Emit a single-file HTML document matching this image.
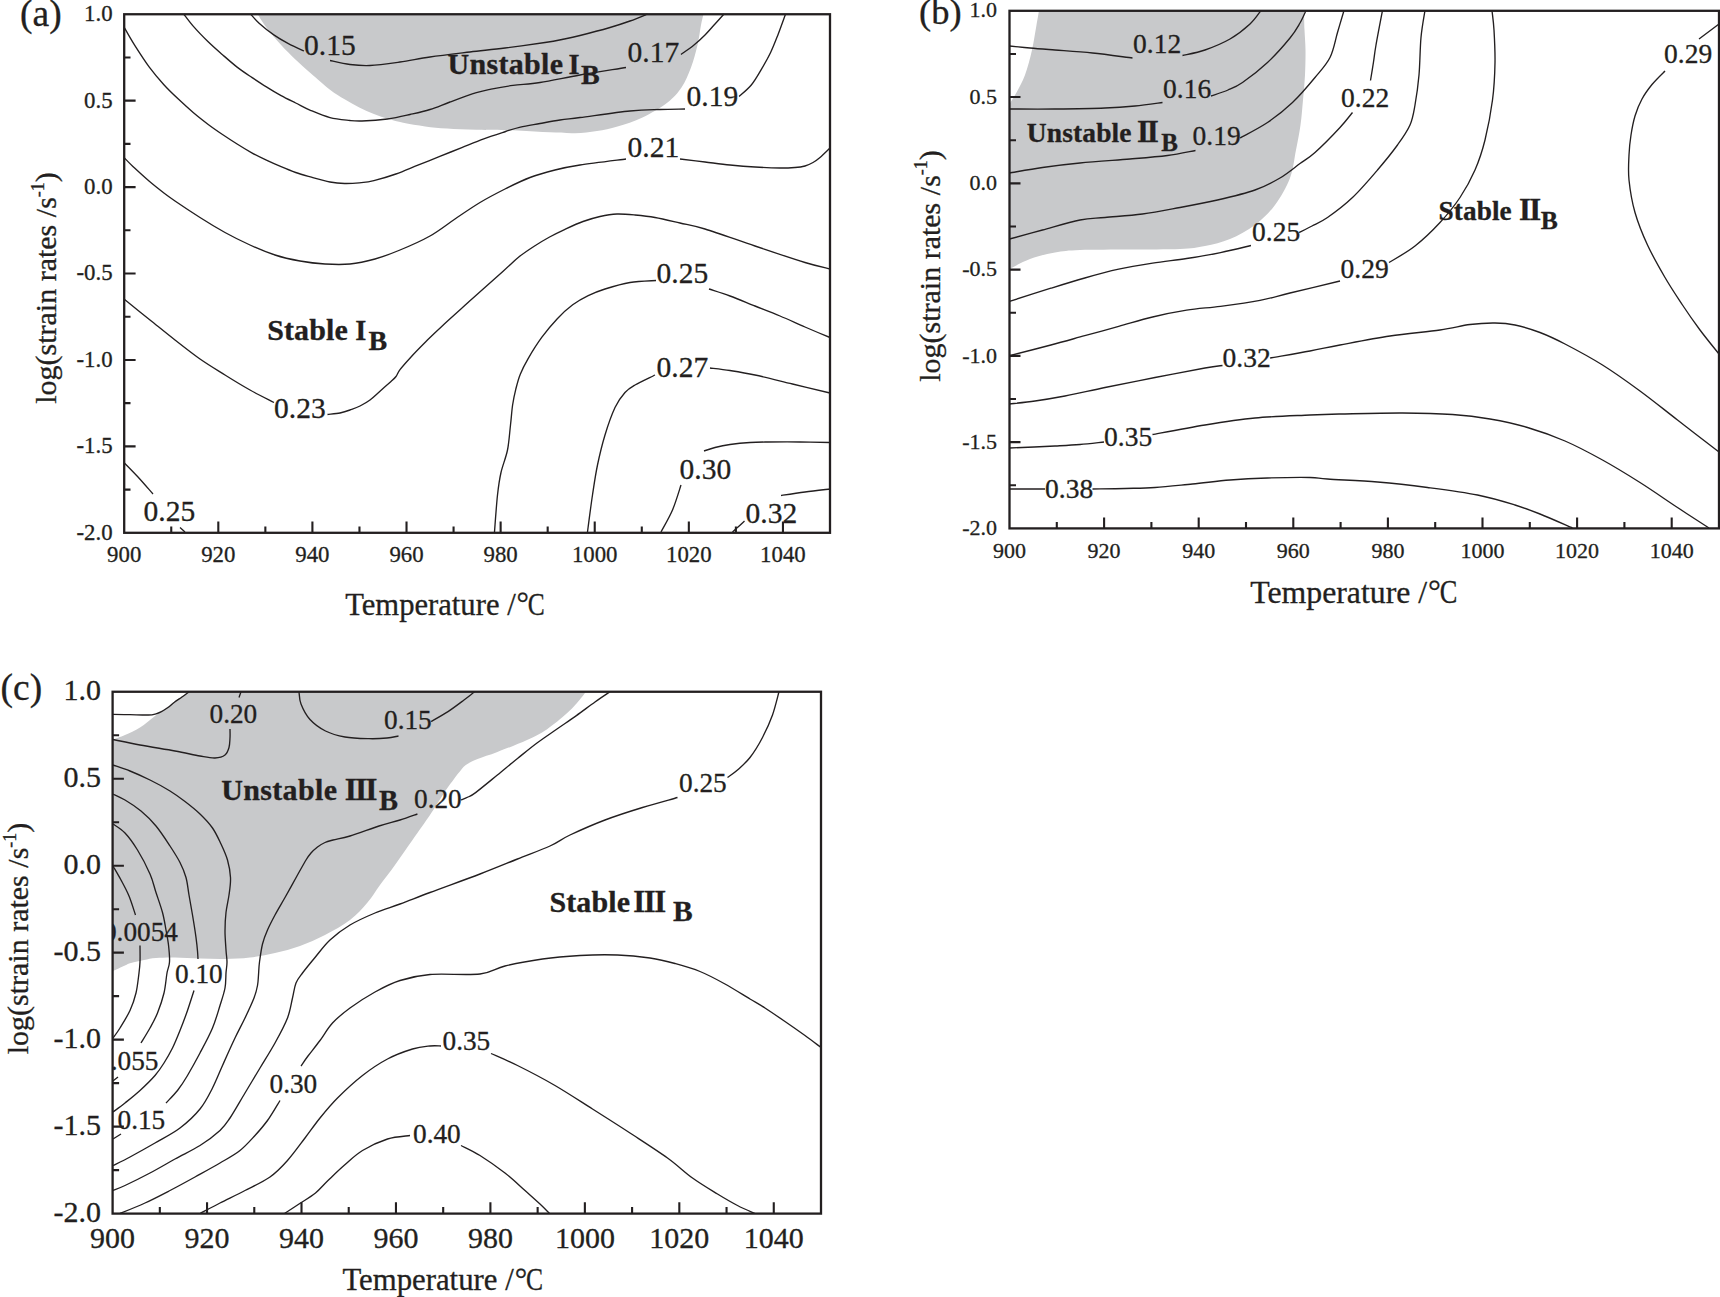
<!DOCTYPE html>
<html><head><meta charset="utf-8"><title>Processing maps</title>
<style>
html,body{margin:0;padding:0;background:#fff;}
svg{display:block;}
text{font-family:"Liberation Serif",serif;fill:#231f20;stroke:#231f20;stroke-width:0.3px;}
</style></head>
<body>
<svg width="1720" height="1297" viewBox="0 0 1720 1297">
<rect width="1720" height="1297" fill="#fff"/>
<g id="panel-a">
<path d="M257.5 14.0 C259.0 16.3 262.5 22.4 266.4 27.6 C270.3 32.8 276.2 39.7 281.1 45.1 C286.0 50.5 290.8 55.1 295.7 59.8 C300.6 64.5 304.7 68.0 310.4 73.0 C316.1 78.0 324.3 85.4 330.0 89.8 C335.7 94.2 339.7 96.4 344.6 99.3 C349.5 102.2 354.4 105.0 359.3 107.4 C364.2 109.9 369.0 112.0 373.9 114.0 C378.8 116.0 383.7 117.6 388.6 119.1 C393.5 120.6 397.1 121.6 403.2 122.8 C409.3 124.0 417.9 125.4 425.2 126.4 C432.5 127.4 438.6 128.0 447.1 128.6 C455.6 129.2 464.7 129.5 476.4 129.8 C488.1 130.1 505.2 130.1 517.5 130.5 C529.8 130.9 540.4 131.9 550.0 132.3 C559.6 132.8 567.2 133.4 575.0 133.2 C582.8 133.0 589.9 132.1 597.0 131.0 C604.1 129.9 609.9 128.8 617.5 126.5 C625.1 124.2 634.2 121.5 642.5 117.5 C650.8 113.5 661.0 107.5 667.5 102.5 C674.0 97.5 677.6 93.3 681.5 87.5 C685.4 81.7 688.3 74.6 691.0 67.5 C693.7 60.4 695.8 52.1 697.5 45.0 C699.2 37.9 700.0 30.2 701.0 25.0 C702.0 19.8 703.1 15.8 703.5 14.0 Z" fill="#c8c9cb" stroke="none"/>
<path d="M250.5 14.0 C251.9 15.5 255.2 19.7 259.1 23.2 C263.0 26.7 268.9 31.5 273.8 34.9 C278.7 38.3 283.4 41.0 288.4 43.7 C293.4 46.4 301.4 49.8 304.0 51.0 M330.0 60.5 C333.3 61.2 343.3 63.7 350.0 64.5 C356.7 65.3 361.7 65.9 370.0 65.5 C378.3 65.1 390.0 63.4 400.0 62.0 C410.0 60.6 418.3 58.7 430.0 57.0 C441.7 55.3 457.5 53.5 470.0 52.0 C482.5 50.5 492.5 49.6 505.0 48.0 C517.5 46.4 535.5 43.9 545.0 42.5 C554.5 41.1 556.2 40.7 562.0 39.5 C567.8 38.3 572.0 37.5 580.0 35.5 C588.0 33.5 601.7 29.9 610.0 27.5 C618.3 25.1 623.8 23.2 630.0 21.0 C636.2 18.8 644.6 15.2 647.5 14.0 M183.7 14.0 C185.3 16.0 189.2 21.5 193.2 26.1 C197.2 30.7 203.0 36.7 207.9 41.5 C212.8 46.3 217.6 50.4 222.5 54.7 C227.4 59.0 232.2 63.3 237.1 67.1 C242.0 70.9 246.9 74.1 251.8 77.4 C256.7 80.7 261.5 83.9 266.4 86.9 C271.3 90.0 276.2 93.0 281.1 95.7 C286.0 98.4 290.8 100.6 295.7 103.0 C300.6 105.4 304.7 107.9 310.4 110.3 C316.1 112.7 323.4 115.9 330.0 117.6 C336.6 119.3 344.7 119.9 350.0 120.5 C355.3 121.1 355.8 121.2 362.0 121.0 C368.2 120.8 379.5 120.1 387.5 119.0 C395.5 117.9 402.9 116.1 410.0 114.5 C417.1 112.9 423.3 111.6 430.0 109.5 C436.7 107.4 442.3 104.8 450.0 102.0 C457.7 99.2 469.5 94.9 476.4 92.7 C483.2 90.5 485.0 90.3 491.1 89.1 C497.2 87.9 504.9 86.5 513.0 85.4 C521.1 84.3 528.8 84.2 540.0 82.5 C551.2 80.8 565.7 77.5 580.0 75.0 C594.3 72.5 618.3 68.8 626.0 67.5 M681.0 54.5 C683.2 52.9 690.0 48.2 694.0 45.0 C698.0 41.8 701.5 38.5 705.0 35.0 C708.5 31.5 711.8 27.5 715.0 24.0 C718.2 20.5 722.5 15.7 724.0 14.0 M124.2 27.3 C125.9 30.3 130.4 38.5 134.6 45.1 C138.8 51.7 144.4 60.5 149.3 67.1 C154.2 73.7 159.0 79.3 163.9 84.7 C168.8 90.1 173.7 94.7 178.6 99.3 C183.5 103.9 188.3 108.3 193.2 112.5 C198.1 116.7 203.0 120.5 207.9 124.2 C212.8 127.9 217.6 131.2 222.5 134.5 C227.4 137.8 232.2 140.9 237.1 144.0 C242.0 147.1 246.9 150.1 251.8 152.8 C256.7 155.5 261.5 157.8 266.4 160.1 C271.3 162.4 276.2 164.6 281.1 166.7 C286.0 168.8 290.8 170.8 295.7 172.5 C300.6 174.2 304.7 175.3 310.4 176.9 C316.1 178.5 324.3 180.9 330.0 182.0 C335.7 183.1 339.7 183.4 344.6 183.5 C349.5 183.6 354.4 183.3 359.3 182.8 C364.2 182.3 367.8 182.1 373.9 180.6 C380.0 179.1 388.6 176.6 395.9 174.0 C403.2 171.4 410.6 168.1 417.9 165.2 C425.2 162.3 432.5 159.3 439.8 156.4 C447.1 153.5 454.5 150.5 461.8 147.6 C469.1 144.7 476.5 141.6 483.8 138.9 C491.1 136.2 499.6 133.5 505.7 131.5 C511.8 129.5 514.7 128.4 520.4 127.1 C526.1 125.8 533.4 124.7 540.0 123.5 C546.6 122.3 553.3 121.0 560.0 120.0 C566.7 119.0 568.3 119.0 580.0 117.5 C591.7 116.0 616.7 112.3 630.0 111.0 C643.3 109.7 650.8 109.8 660.0 109.5 C669.2 109.2 680.8 109.1 685.0 109.0 M739.1 96.4 C741.2 94.5 747.7 89.3 751.5 84.7 C755.3 80.1 758.6 74.0 761.8 68.6 C765.0 63.2 767.9 58.1 770.6 52.5 C773.3 46.9 775.4 41.3 777.9 34.9 C780.4 28.5 784.2 17.7 785.5 14.2 M124.2 157.7 C125.9 159.4 130.4 164.2 134.6 168.1 C138.8 172.0 144.4 177.2 149.3 181.3 C154.2 185.5 159.6 189.7 163.9 193.0 C168.2 196.3 169.0 196.9 175.0 201.0 C181.0 205.1 191.7 212.2 200.0 217.5 C208.3 222.8 216.7 227.9 225.0 232.5 C233.3 237.1 241.7 241.2 250.0 245.0 C258.3 248.8 266.7 252.3 275.0 255.0 C283.3 257.7 291.7 259.5 300.0 261.0 C308.3 262.5 316.7 263.5 325.0 264.0 C333.3 264.5 341.7 264.8 350.0 264.0 C358.3 263.2 366.7 261.3 375.0 259.0 C383.3 256.7 390.8 253.8 400.0 250.0 C409.2 246.2 420.8 241.2 430.0 236.0 C439.2 230.8 446.7 224.6 455.0 219.0 C463.3 213.4 471.7 207.5 480.0 202.5 C488.3 197.5 496.7 193.2 505.0 189.0 C513.3 184.8 521.7 180.7 530.0 177.5 C538.3 174.3 546.7 172.1 555.0 170.0 C563.3 167.9 568.2 166.8 580.0 165.0 C591.8 163.2 618.3 160.0 626.0 159.0 M680.0 159.0 C684.2 159.5 696.7 161.0 705.0 162.0 C713.3 163.0 721.7 164.2 730.0 165.0 C738.3 165.8 746.7 166.5 755.0 167.0 C763.3 167.5 773.3 167.9 780.0 168.0 C786.7 168.1 790.8 167.8 795.0 167.5 C799.2 167.2 802.0 166.8 805.0 166.0 C808.0 165.2 810.5 163.9 813.0 162.5 C815.5 161.1 817.2 159.9 820.0 157.5 C822.8 155.1 828.3 149.6 830.0 148.0 M124.0 299.0 C128.3 302.5 141.5 313.2 150.0 320.0 C158.5 326.8 166.7 333.5 175.0 340.0 C183.3 346.5 191.7 353.2 200.0 359.0 C208.3 364.8 216.7 369.8 225.0 375.0 C233.3 380.2 241.8 385.4 250.0 390.0 C258.2 394.6 270.0 400.4 274.0 402.5 M327.5 414.5 C329.6 414.2 336.2 413.8 340.0 413.0 C343.8 412.2 346.7 411.2 350.0 410.0 C353.3 408.8 356.7 407.7 360.0 406.0 C363.3 404.3 366.7 402.5 370.0 400.0 C373.3 397.5 376.5 394.3 380.0 391.2 C383.5 388.1 388.3 383.9 391.0 381.5 C393.7 379.1 394.5 378.5 396.0 376.5 C397.5 374.5 397.5 372.8 400.0 369.6 C402.5 366.4 406.5 361.9 410.8 357.2 C415.1 352.5 420.9 346.6 426.0 341.5 C431.1 336.4 433.9 333.5 441.7 326.4 C449.4 319.2 462.2 307.9 472.5 298.6 C482.8 289.4 495.7 277.8 503.4 270.9 C511.1 264.0 513.7 261.1 518.8 257.0 C523.9 252.9 529.1 249.5 534.2 246.2 C539.3 242.9 544.5 239.8 549.6 237.0 C554.7 234.2 559.4 231.9 565.0 229.3 C570.6 226.7 577.2 223.6 583.0 221.5 C588.8 219.4 594.3 217.8 600.0 216.5 C605.7 215.2 611.2 214.2 617.0 214.0 C622.8 213.8 628.7 214.4 635.0 215.0 C641.3 215.6 647.5 216.2 655.0 217.5 C662.5 218.8 671.7 221.1 680.0 223.0 C688.3 224.9 692.5 225.2 705.0 229.0 C717.5 232.8 738.3 240.4 755.0 246.0 C771.7 251.6 792.5 258.7 805.0 262.5 C817.5 266.3 825.8 267.9 830.0 269.0 M494.5 532.0 C495.0 525.8 496.4 504.9 497.5 495.0 C498.6 485.1 499.3 480.0 501.0 472.5 C502.7 465.0 505.9 457.9 507.5 450.0 C509.1 442.1 509.6 432.5 510.5 425.0 C511.4 417.5 511.7 410.9 512.6 405.0 C513.5 399.1 514.4 394.7 515.7 389.6 C517.0 384.5 518.2 379.3 520.3 374.2 C522.3 369.1 524.4 365.0 528.0 358.8 C531.6 352.6 537.0 343.9 541.9 337.2 C546.8 330.5 552.2 324.1 557.3 318.7 C562.4 313.3 567.6 308.6 572.7 304.8 C577.9 301.0 582.8 298.2 588.2 295.6 C593.6 293.0 598.0 291.2 605.0 289.0 C612.0 286.8 621.5 283.9 630.0 282.5 C638.5 281.1 651.7 280.8 656.0 280.5 M709.0 289.0 C712.5 290.2 722.3 293.2 730.0 296.0 C737.7 298.8 746.7 302.7 755.0 306.0 C763.3 309.3 771.7 312.5 780.0 316.0 C788.3 319.5 796.7 323.4 805.0 327.0 C813.3 330.6 825.8 335.8 830.0 337.5 M124.0 462.5 C126.3 464.9 133.2 471.8 138.0 477.0 C142.8 482.2 150.5 491.2 153.0 494.0 M180.0 527.5 L185.0 532.0 M587.5 532.0 C588.3 525.8 590.8 506.2 592.5 495.0 C594.2 483.8 595.4 475.0 597.5 465.0 C599.6 455.0 602.1 444.6 605.0 435.0 C607.9 425.4 611.7 414.6 615.0 407.5 C618.3 400.4 621.7 396.2 625.0 392.5 C628.3 388.8 630.0 387.9 635.0 385.0 C640.0 382.1 651.7 376.7 655.0 375.0 M710.0 368.0 C713.3 368.4 722.5 369.3 730.0 370.5 C737.5 371.7 744.6 372.8 755.0 375.0 C765.4 377.2 780.0 381.0 792.5 384.0 C805.0 387.0 823.8 391.5 830.0 393.0 M661.0 532.0 C662.9 528.3 669.2 517.8 672.5 510.0 C675.8 502.2 679.6 489.2 681.0 485.0 M704.0 451.0 C705.8 450.4 710.7 448.6 715.0 447.5 C719.3 446.4 724.2 445.3 730.0 444.5 C735.8 443.7 743.8 442.9 750.0 442.5 C756.2 442.1 759.2 442.1 767.5 442.0 C775.8 441.9 789.6 441.9 800.0 442.0 C810.4 442.1 825.0 442.4 830.0 442.5 M732.5 532.0 C733.4 531.2 736.0 528.8 738.0 527.0 C740.0 525.2 743.4 522.0 744.5 521.0 M781.0 495.5 C785.0 494.9 796.8 493.1 805.0 492.0 C813.2 490.9 825.8 489.5 830.0 489.0" fill="none" stroke="#231f20" stroke-width="1.35" stroke-linecap="butt" stroke-linejoin="round"/>
<rect x="124.20" y="14.25" width="705.80" height="518.55" fill="none" stroke="#231f20" stroke-width="2.3"/>
<path d="M171.25 532.80 v-6.30 M218.31 532.80 v-11.40 M265.36 532.80 v-6.30 M312.41 532.80 v-11.40 M359.47 532.80 v-6.30 M406.52 532.80 v-11.40 M453.57 532.80 v-6.30 M500.63 532.80 v-11.40 M547.68 532.80 v-6.30 M594.73 532.80 v-11.40 M641.79 532.80 v-6.30 M688.84 532.80 v-11.40 M735.89 532.80 v-6.30 M782.95 532.80 v-11.40 M124.20 57.46 h6.30 M124.20 100.67 h11.40 M124.20 143.89 h6.30 M124.20 187.10 h11.40 M124.20 230.31 h6.30 M124.20 273.52 h11.40 M124.20 316.74 h6.30 M124.20 359.95 h11.40 M124.20 403.16 h6.30 M124.20 446.38 h11.40 M124.20 489.59 h6.30 " fill="none" stroke="#231f20" stroke-width="2.1"/>
<text x="124.2" y="562.0" font-size="22.8" text-anchor="middle">900</text>
<text x="218.3" y="562.0" font-size="22.8" text-anchor="middle">920</text>
<text x="312.4" y="562.0" font-size="22.8" text-anchor="middle">940</text>
<text x="406.5" y="562.0" font-size="22.8" text-anchor="middle">960</text>
<text x="500.6" y="562.0" font-size="22.8" text-anchor="middle">980</text>
<text x="594.7" y="562.0" font-size="22.8" text-anchor="middle">1000</text>
<text x="688.8" y="562.0" font-size="22.8" text-anchor="middle">1020</text>
<text x="782.9" y="562.0" font-size="22.8" text-anchor="middle">1040</text>
<text x="112.6" y="21.1" font-size="22.8" text-anchor="end">1.0</text>
<text x="112.6" y="107.6" font-size="22.8" text-anchor="end">0.5</text>
<text x="112.6" y="194.0" font-size="22.8" text-anchor="end">0.0</text>
<text x="112.6" y="280.4" font-size="22.8" text-anchor="end">-0.5</text>
<text x="112.6" y="366.8" font-size="22.8" text-anchor="end">-1.0</text>
<text x="112.6" y="453.3" font-size="22.8" text-anchor="end">-1.5</text>
<text x="112.6" y="539.7" font-size="22.8" text-anchor="end">-2.0</text>
<text transform="translate(56.4 288.0) rotate(-90)" font-size="30.0" text-anchor="middle">log(strain rates /s<tspan font-size="18.0" dy="-12.6">-1</tspan><tspan dy="12.6">)</tspan></text>
<text x="345.2" y="614.5" font-size="30.64">Temperature /</text>
<text x="516.6" y="614.3" font-size="31.00" stroke="#231f20" stroke-width="0.7">°</text>
<text transform="translate(527.8 614.5) scale(0.80 1)" font-family="&quot;Liberation Sans&quot;, sans-serif" font-size="31.80" stroke="#231f20" stroke-width="0.5">C</text>
<text x="20.0" y="26.0" font-size="37.5" text-anchor="start">(a)</text>
<text x="304.0" y="55.0" font-size="29.5" text-anchor="start">0.15</text>
<text x="627.5" y="62.2" font-size="29.5" text-anchor="start">0.17</text>
<text x="686.5" y="106.0" font-size="29.5" text-anchor="start">0.19</text>
<text x="627.5" y="157.3" font-size="29.5" text-anchor="start">0.21</text>
<text x="656.5" y="283.0" font-size="29.5" text-anchor="start">0.25</text>
<text x="274.0" y="417.5" font-size="29.5" text-anchor="start">0.23</text>
<text x="656.5" y="377.3" font-size="29.5" text-anchor="start">0.27</text>
<text x="679.6" y="479.0" font-size="29.5" text-anchor="start">0.30</text>
<text x="745.5" y="523.0" font-size="29.5" text-anchor="start">0.32</text>
<text x="143.6" y="521.3" font-size="29.5" text-anchor="start">0.25</text>
<text font-weight="bold" font-size="30.0" stroke="#231f20" stroke-width="0.3"><tspan x="447.5" y="73.7" letter-spacing="0.30">Unstable</tspan><tspan x="568.6" y="73.7" font-size="28.5" letter-spacing="0.00">I</tspan><tspan x="581.1" y="83.6" font-size="28.0">B</tspan></text>
<text font-weight="bold" font-size="30.0" stroke="#231f20" stroke-width="0.3"><tspan x="267.2" y="340.3" letter-spacing="0.10">Stable</tspan><tspan x="355.3" y="340.3" font-size="28.5" letter-spacing="0.00">I</tspan><tspan x="368.5" y="349.8" font-size="28.0">B</tspan></text>
</g>
<g id="panel-b">
<path d="M1039.0 10.5 C1038.6 12.9 1037.7 18.4 1036.5 25.0 C1035.3 31.6 1033.9 41.7 1032.0 50.0 C1030.1 58.3 1027.6 67.9 1025.0 75.0 C1022.4 82.1 1019.1 87.7 1016.5 92.5 C1013.9 97.3 1010.7 102.1 1009.5 104.0 L1009.5 269.0 C1012.9 267.3 1022.4 261.8 1030.0 259.0 C1037.6 256.2 1046.7 254.0 1055.0 252.5 C1063.3 251.0 1067.5 250.5 1080.0 250.0 C1092.5 249.5 1113.3 249.7 1130.0 249.5 C1146.7 249.3 1167.5 249.6 1180.0 249.0 C1192.5 248.4 1196.7 247.7 1205.0 246.0 C1213.3 244.3 1221.7 242.5 1230.0 239.0 C1238.3 235.5 1247.5 230.7 1255.0 225.0 C1262.5 219.3 1269.2 212.8 1275.0 205.0 C1280.8 197.2 1286.5 187.2 1290.0 178.0 C1293.5 168.8 1294.2 158.8 1296.0 150.0 C1297.8 141.2 1299.3 133.3 1300.5 125.0 C1301.7 116.7 1302.2 108.3 1303.0 100.0 C1303.8 91.7 1304.6 83.3 1305.0 75.0 C1305.4 66.7 1305.6 57.5 1305.5 50.0 C1305.4 42.5 1304.8 36.6 1304.5 30.0 C1304.2 23.4 1304.1 13.8 1304.0 10.5 Z" fill="#c8c9cb" stroke="none"/>
<path d="M1009.5 46.0 C1012.9 46.3 1022.4 47.3 1030.0 48.0 C1037.6 48.7 1044.6 49.2 1055.0 50.0 C1065.4 50.8 1079.6 51.7 1092.5 53.0 C1105.4 54.3 1125.8 57.2 1132.5 58.0 M1182.5 55.5 C1186.2 54.6 1197.1 52.8 1205.0 50.0 C1212.9 47.2 1222.5 43.3 1230.0 39.0 C1237.5 34.7 1244.8 28.8 1250.0 24.0 C1255.2 19.2 1259.2 12.8 1261.0 10.5 M1009.5 109.0 C1017.1 109.0 1039.1 109.2 1055.0 109.0 C1070.9 108.8 1091.7 108.5 1105.0 108.0 C1118.3 107.5 1125.4 106.9 1135.0 106.0 C1144.6 105.1 1157.9 103.1 1162.5 102.5 M1211.0 96.0 C1213.8 95.0 1222.8 92.2 1228.0 90.0 C1233.2 87.8 1235.9 87.1 1242.5 82.5 C1249.1 77.9 1259.6 69.9 1267.5 62.5 C1275.4 55.1 1284.6 44.6 1290.0 38.0 C1295.4 31.4 1297.3 27.6 1300.0 23.0 C1302.7 18.4 1305.0 12.6 1306.0 10.5 M1009.5 173.0 C1015.0 172.1 1030.8 169.2 1042.5 167.5 C1054.2 165.8 1065.4 164.4 1080.0 163.0 C1094.6 161.6 1115.4 160.2 1130.0 159.0 C1144.6 157.8 1156.6 156.9 1167.5 155.5 C1178.4 154.1 1190.8 151.3 1195.5 150.5 M1240.0 138.0 C1244.6 135.4 1258.8 128.4 1267.5 122.5 C1276.2 116.6 1284.6 110.0 1292.5 102.5 C1300.4 95.0 1308.8 85.0 1315.0 77.5 C1321.2 70.0 1326.2 65.0 1330.0 57.5 C1333.8 50.0 1335.2 40.3 1337.5 32.5 C1339.8 24.7 1342.9 14.2 1344.0 10.5 M1009.5 239.0 C1015.0 237.5 1030.8 233.2 1042.5 230.0 C1054.2 226.8 1069.6 222.1 1080.0 220.0 C1090.4 217.9 1094.6 218.5 1105.0 217.5 C1115.4 216.5 1130.0 215.7 1142.5 214.0 C1155.0 212.3 1167.5 209.8 1180.0 207.5 C1192.5 205.2 1205.0 202.9 1217.5 200.0 C1230.0 197.1 1244.6 193.7 1255.0 190.0 C1265.4 186.3 1272.5 182.4 1280.0 178.0 C1287.5 173.6 1294.2 167.8 1300.0 163.5 C1305.8 159.2 1308.3 158.5 1315.0 152.5 C1321.7 146.5 1333.8 134.2 1340.0 127.5 C1346.2 120.8 1350.4 115.0 1352.5 112.5 M1370.5 80.5 C1371.0 77.4 1372.6 67.9 1373.5 62.0 C1374.4 56.1 1374.5 53.6 1376.0 45.0 C1377.5 36.4 1381.4 16.2 1382.5 10.5 M1009.5 301.4 C1016.4 299.2 1038.4 292.1 1050.9 288.2 C1063.5 284.3 1073.5 281.2 1084.8 278.0 C1096.1 274.8 1107.4 271.7 1118.7 269.2 C1130.0 266.7 1141.3 264.9 1152.6 263.1 C1163.9 261.3 1175.3 260.2 1186.6 258.5 C1197.9 256.8 1209.8 254.8 1220.5 252.6 C1231.2 250.4 1245.9 246.7 1251.0 245.5 M1299.0 232.5 C1301.2 231.4 1307.2 228.5 1312.0 226.0 C1316.8 223.5 1320.8 222.2 1327.5 217.5 C1334.2 212.8 1344.2 205.4 1352.5 197.5 C1360.8 189.6 1370.0 178.8 1377.5 170.0 C1385.0 161.2 1392.1 152.5 1397.5 145.0 C1402.9 137.5 1407.1 131.7 1410.0 125.0 C1412.9 118.3 1413.5 113.3 1415.0 105.0 C1416.5 96.7 1418.0 86.2 1419.0 75.0 C1420.0 63.8 1420.0 48.2 1421.0 37.5 C1422.0 26.8 1424.3 15.0 1425.0 10.5 M1009.5 355.7 C1016.4 353.9 1038.4 348.3 1050.9 345.0 C1063.5 341.7 1073.5 338.8 1084.8 335.7 C1096.1 332.6 1107.4 329.5 1118.7 326.4 C1130.0 323.3 1141.3 319.7 1152.6 317.0 C1163.9 314.3 1175.3 312.0 1186.6 310.2 C1197.9 308.4 1208.3 307.9 1220.5 306.3 C1232.7 304.7 1248.4 302.6 1260.0 300.4 C1271.6 298.2 1276.7 296.2 1290.0 293.0 C1303.3 289.8 1331.7 283.0 1340.0 281.0 M1389.0 262.5 C1393.3 259.8 1406.5 252.7 1415.0 246.0 C1423.5 239.3 1432.5 230.6 1440.0 222.5 C1447.5 214.4 1454.2 206.2 1460.0 197.5 C1465.8 188.8 1470.8 179.6 1475.0 170.0 C1479.2 160.4 1482.1 151.7 1485.0 140.0 C1487.9 128.3 1490.8 112.9 1492.5 100.0 C1494.2 87.1 1494.8 74.2 1495.0 62.5 C1495.2 50.8 1494.5 38.7 1494.0 30.0 C1493.5 21.3 1492.3 13.8 1492.0 10.5 M1719.0 24.0 L1699.0 39.0 M1665.0 71.0 C1662.8 73.2 1655.8 79.8 1652.0 84.5 C1648.2 89.2 1644.8 93.8 1642.0 99.0 C1639.2 104.2 1636.8 110.0 1635.0 116.0 C1633.2 122.0 1632.0 128.5 1631.0 135.0 C1630.0 141.5 1629.3 147.5 1629.0 155.0 C1628.7 162.5 1628.0 170.4 1629.0 180.0 C1630.0 189.6 1631.9 201.7 1635.0 212.5 C1638.1 223.3 1642.5 234.2 1647.5 245.0 C1652.5 255.8 1659.2 267.5 1665.0 277.5 C1670.8 287.5 1676.7 296.2 1682.5 305.0 C1688.3 313.8 1693.9 321.8 1700.0 330.0 C1706.1 338.2 1715.8 350.0 1719.0 354.0 M1009.5 404.0 C1013.8 403.5 1025.8 402.3 1035.0 401.0 C1044.2 399.7 1053.3 398.2 1065.0 396.0 C1076.7 393.8 1090.0 390.6 1105.0 387.5 C1120.0 384.4 1138.3 380.8 1155.0 377.5 C1171.7 374.2 1193.8 370.0 1205.0 368.0 C1216.2 366.0 1219.6 365.9 1222.5 365.5 M1270.0 358.0 C1276.7 356.8 1298.3 353.2 1310.0 351.0 C1321.7 348.8 1326.7 347.5 1340.0 345.0 C1353.3 342.5 1373.3 338.5 1390.0 336.0 C1406.7 333.5 1426.7 331.9 1440.0 330.0 C1453.3 328.1 1460.8 325.7 1470.0 324.5 C1479.2 323.3 1487.5 322.9 1495.0 323.0 C1502.5 323.1 1507.5 323.4 1515.0 325.0 C1522.5 326.6 1531.7 329.3 1540.0 332.5 C1548.3 335.7 1554.6 338.6 1565.0 344.0 C1575.4 349.4 1590.0 357.2 1602.5 365.0 C1615.0 372.8 1627.5 381.8 1640.0 391.0 C1652.5 400.2 1664.3 409.8 1677.5 420.0 C1690.7 430.2 1712.1 446.7 1719.0 452.0 M1009.5 448.0 C1017.1 447.7 1043.2 446.6 1055.0 446.0 C1066.8 445.4 1071.8 445.2 1080.0 444.5 C1088.2 443.8 1100.0 442.4 1104.0 442.0 M1152.5 434.5 C1161.2 432.9 1187.9 427.8 1205.0 425.0 C1222.1 422.2 1237.5 419.7 1255.0 418.0 C1272.5 416.3 1295.8 415.7 1310.0 415.0 C1324.2 414.3 1324.6 414.3 1340.0 414.0 C1355.4 413.7 1383.8 412.9 1402.5 413.0 C1421.2 413.1 1437.9 413.5 1452.5 414.5 C1467.1 415.5 1477.5 416.8 1490.0 419.0 C1502.5 421.2 1515.0 423.8 1527.5 427.5 C1540.0 431.2 1552.5 435.6 1565.0 441.0 C1577.5 446.4 1590.0 453.1 1602.5 460.0 C1615.0 466.9 1627.5 474.6 1640.0 482.5 C1652.5 490.4 1666.0 499.9 1677.5 507.5 C1689.0 515.1 1703.8 524.6 1709.0 528.0 M1009.5 489.0 L1045.0 489.0 M1092.5 489.0 C1097.9 488.9 1114.6 488.8 1125.0 488.5 C1135.4 488.2 1143.8 488.2 1155.0 487.5 C1166.2 486.8 1180.0 485.2 1192.5 484.0 C1205.0 482.8 1217.5 481.0 1230.0 480.0 C1242.5 479.0 1254.2 478.4 1267.5 478.0 C1280.8 477.6 1300.0 477.3 1310.0 477.5 C1320.0 477.7 1316.2 478.2 1327.5 479.0 C1338.8 479.8 1360.8 480.6 1377.5 482.0 C1394.2 483.4 1410.8 485.3 1427.5 487.5 C1444.2 489.7 1462.9 492.1 1477.5 495.0 C1492.1 497.9 1504.6 501.8 1515.0 505.0 C1525.4 508.2 1530.4 510.2 1540.0 514.0 C1549.6 517.8 1567.1 525.7 1572.5 528.0" fill="none" stroke="#231f20" stroke-width="1.35" stroke-linecap="butt" stroke-linejoin="round"/>
<rect x="1009.50" y="10.80" width="709.50" height="517.60" fill="none" stroke="#231f20" stroke-width="2.3"/>
<path d="M1056.80 528.40 v-6.50 M1104.10 528.40 v-11.00 M1151.40 528.40 v-6.50 M1198.70 528.40 v-11.00 M1246.00 528.40 v-6.50 M1293.30 528.40 v-11.00 M1340.60 528.40 v-6.50 M1387.90 528.40 v-11.00 M1435.20 528.40 v-6.50 M1482.50 528.40 v-11.00 M1529.80 528.40 v-6.50 M1577.10 528.40 v-11.00 M1624.40 528.40 v-6.50 M1671.70 528.40 v-11.00 M1009.50 53.93 h6.50 M1009.50 97.07 h11.00 M1009.50 140.20 h6.50 M1009.50 183.33 h11.00 M1009.50 226.47 h6.50 M1009.50 269.60 h11.00 M1009.50 312.73 h6.50 M1009.50 355.87 h11.00 M1009.50 399.00 h6.50 M1009.50 442.13 h11.00 M1009.50 485.27 h6.50 " fill="none" stroke="#231f20" stroke-width="2.1"/>
<text x="1009.5" y="557.5" font-size="22.0" text-anchor="middle">900</text>
<text x="1104.1" y="557.5" font-size="22.0" text-anchor="middle">920</text>
<text x="1198.7" y="557.5" font-size="22.0" text-anchor="middle">940</text>
<text x="1293.3" y="557.5" font-size="22.0" text-anchor="middle">960</text>
<text x="1387.9" y="557.5" font-size="22.0" text-anchor="middle">980</text>
<text x="1482.5" y="557.5" font-size="22.0" text-anchor="middle">1000</text>
<text x="1577.1" y="557.5" font-size="22.0" text-anchor="middle">1020</text>
<text x="1671.7" y="557.5" font-size="22.0" text-anchor="middle">1040</text>
<text x="997.0" y="17.4" font-size="22.0" text-anchor="end">1.0</text>
<text x="997.0" y="103.7" font-size="22.0" text-anchor="end">0.5</text>
<text x="997.0" y="189.9" font-size="22.0" text-anchor="end">0.0</text>
<text x="997.0" y="276.2" font-size="22.0" text-anchor="end">-0.5</text>
<text x="997.0" y="362.5" font-size="22.0" text-anchor="end">-1.0</text>
<text x="997.0" y="448.7" font-size="22.0" text-anchor="end">-1.5</text>
<text x="997.0" y="535.0" font-size="22.0" text-anchor="end">-2.0</text>
<text transform="translate(939.7 266.0) rotate(-90)" font-size="30.0" text-anchor="middle">log(strain rates /s<tspan font-size="18.0" dy="-12.6">-1</tspan><tspan dy="12.6">)</tspan></text>
<text x="1250.2" y="602.6" font-size="31.80">Temperature /</text>
<text x="1428.1" y="602.4" font-size="32.18" stroke="#231f20" stroke-width="0.7">°</text>
<text transform="translate(1439.7 602.6) scale(0.80 1)" font-family="&quot;Liberation Sans&quot;, sans-serif" font-size="33.01" stroke="#231f20" stroke-width="0.5">C</text>
<text x="919.0" y="24.0" font-size="36.5" text-anchor="start">(b)</text>
<text x="1133.0" y="53.0" font-size="27.5" text-anchor="start">0.12</text>
<text x="1163.0" y="97.5" font-size="27.5" text-anchor="start">0.16</text>
<text x="1192.5" y="144.5" font-size="27.5" text-anchor="start">0.19</text>
<text x="1252.0" y="241.0" font-size="27.5" text-anchor="start">0.25</text>
<text x="1341.0" y="107.0" font-size="27.5" text-anchor="start">0.22</text>
<text x="1340.5" y="278.0" font-size="27.5" text-anchor="start">0.29</text>
<text x="1664.0" y="63.0" font-size="27.5" text-anchor="start">0.29</text>
<text x="1222.5" y="367.0" font-size="27.5" text-anchor="start">0.32</text>
<text x="1104.0" y="445.5" font-size="27.5" text-anchor="start">0.35</text>
<text x="1045.0" y="497.5" font-size="27.5" text-anchor="start">0.38</text>
<text font-weight="bold" font-size="27.5" stroke="#231f20" stroke-width="0.3"><tspan x="1026.8" y="142.2" letter-spacing="0.12">Unstable</tspan><tspan x="1136.9" y="142.2" font-size="31.0" letter-spacing="-2.10">II</tspan><tspan x="1161.2" y="150.6" font-size="25.0">B</tspan></text>
<text font-weight="bold" font-size="27.3" stroke="#231f20" stroke-width="0.3"><tspan x="1438.6" y="220.1" letter-spacing="0.05">Stable</tspan><tspan x="1519.0" y="220.1" font-size="30.6" letter-spacing="-1.70">II</tspan><tspan x="1540.8" y="228.5" font-size="25.6">B</tspan></text>
</g>
<g id="panel-c">
<clipPath id="clipc"><rect x="112.6" y="691.8" width="708.4" height="521.8"/></clipPath>
<path d="M113.0 739.5 C115.0 738.8 120.5 737.0 125.0 735.0 C129.5 733.0 135.0 730.7 140.0 727.5 C145.0 724.3 150.0 719.8 155.0 716.0 C160.0 712.2 165.0 708.7 170.0 705.0 C175.0 701.3 182.0 696.2 185.0 694.0 C188.0 691.8 187.5 692.1 188.0 691.8 L586.0 691.8 C584.5 693.6 580.2 699.4 577.0 703.0 C573.8 706.6 571.6 709.2 566.6 713.6 C561.6 718.0 553.4 725.0 546.8 729.4 C540.2 733.8 535.2 736.2 527.0 740.0 C518.8 743.8 505.6 748.8 497.4 752.0 C489.2 755.2 482.9 756.8 477.6 759.0 C472.3 761.2 468.9 762.8 465.8 765.0 C462.7 767.2 461.0 770.2 459.0 772.5 C457.0 774.8 456.2 776.1 454.0 779.0 C451.8 781.9 448.7 786.1 446.0 790.0 C443.3 793.9 440.7 798.3 438.0 802.5 C435.3 806.7 434.2 808.8 430.0 815.0 C425.8 821.2 418.3 831.7 412.5 840.0 C406.7 848.3 400.4 857.5 395.0 865.0 C389.6 872.5 384.6 878.8 380.0 885.0 C375.4 891.2 372.5 896.7 367.5 902.5 C362.5 908.3 357.1 914.6 350.0 920.0 C342.9 925.4 333.3 930.7 325.0 935.0 C316.7 939.3 308.3 943.0 300.0 946.0 C291.7 949.0 283.3 951.1 275.0 953.0 C266.7 954.9 258.3 956.5 250.0 957.5 C241.7 958.5 233.3 958.8 225.0 959.0 C216.7 959.2 208.3 958.8 200.0 958.5 C191.7 958.2 182.3 957.6 175.0 957.5 C167.7 957.4 161.2 957.6 156.0 958.0 C150.8 958.4 148.2 959.2 144.0 960.0 C139.8 960.8 134.2 962.1 131.0 963.0 C127.8 963.9 128.0 964.2 125.0 965.5 C122.0 966.8 115.0 970.1 113.0 971.0 Z" fill="#c8c9cb" stroke="none"/>
<path d="M113.0 714.3 C115.8 714.4 124.1 714.6 130.0 714.7 C135.9 714.8 144.1 715.1 148.4 715.0 C152.7 714.9 153.8 714.4 156.0 713.8 C158.2 713.2 159.4 712.6 161.4 711.6 C163.4 710.6 165.8 709.0 168.0 707.5 C170.2 706.0 172.1 704.0 174.4 702.3 C176.7 700.5 179.5 698.8 182.0 697.0 C184.5 695.2 188.1 692.6 189.3 691.8 M113.0 739.5 C117.5 740.4 129.7 743.1 140.0 745.0 C150.3 746.9 165.0 749.2 175.0 751.0 C185.0 752.8 193.3 754.8 200.0 756.0 C206.7 757.2 210.8 758.2 215.0 758.0 C219.2 757.8 222.7 756.8 225.0 755.0 C227.3 753.2 228.2 750.3 229.0 747.5 C229.8 744.7 229.8 741.1 230.0 738.0 C230.2 734.9 230.0 730.5 230.0 729.0 M239.0 697.5 L241.0 691.8 M299.0 691.8 C299.3 693.8 299.2 699.4 301.0 704.0 C302.8 708.6 305.9 715.0 310.0 719.5 C314.1 724.0 319.7 728.1 325.5 731.0 C331.3 733.9 337.8 735.7 345.0 737.0 C352.2 738.3 362.0 738.5 369.0 738.7 C376.0 738.9 382.1 738.5 387.0 738.0 C391.9 737.5 396.6 736.3 398.5 736.0 M431.0 721.5 C433.8 719.9 442.5 715.2 448.0 711.6 C453.5 708.0 459.6 703.3 464.0 700.0 C468.4 696.7 472.9 693.1 474.7 691.8 M461.0 800.0 C462.2 799.5 465.6 798.2 468.0 797.0 C470.4 795.8 470.7 796.3 475.6 792.6 C480.5 788.9 490.4 780.7 497.4 775.0 C504.4 769.3 510.9 763.8 517.5 758.5 C524.1 753.2 530.4 747.9 537.0 743.0 C543.6 738.1 550.4 733.6 557.0 729.0 C563.6 724.4 570.1 720.1 576.4 715.6 C582.7 711.1 589.4 706.0 595.0 702.0 C600.6 698.0 607.5 693.5 610.0 691.8 M417.4 814.0 C414.5 815.0 406.4 818.0 400.0 820.0 C393.6 822.0 387.3 823.3 379.0 826.0 C370.7 828.7 357.7 833.7 350.0 836.0 C342.3 838.3 337.2 838.9 333.0 840.0 C328.8 841.1 327.6 841.3 325.0 842.5 C322.4 843.7 319.8 845.2 317.5 847.0 C315.2 848.8 312.9 850.8 311.0 853.0 C309.1 855.2 308.2 856.3 306.0 860.0 C303.8 863.7 301.0 868.8 297.5 875.0 C294.0 881.2 288.8 890.8 285.0 897.5 C281.2 904.2 277.9 909.6 275.0 915.0 C272.1 920.4 269.6 925.2 267.5 930.0 C265.4 934.8 263.8 938.7 262.5 944.0 C261.2 949.3 260.2 956.8 259.5 962.0 C258.8 967.2 258.8 971.1 258.5 975.0 C258.2 978.9 258.2 981.7 257.5 985.5 C256.8 989.3 256.1 992.6 254.0 998.0 C251.9 1003.4 248.2 1011.3 245.0 1018.0 C241.8 1024.7 238.8 1030.1 235.0 1038.0 C231.2 1045.9 226.2 1057.2 222.5 1065.5 C218.8 1073.8 216.2 1080.8 212.5 1088.0 C208.8 1095.2 205.4 1102.3 200.0 1109.0 C194.6 1115.7 187.5 1122.3 180.0 1128.0 C172.5 1133.7 163.3 1138.2 155.0 1143.0 C146.7 1147.8 137.0 1153.2 130.0 1157.0 C123.0 1160.8 115.8 1164.1 113.0 1165.5 M113.0 765.0 C115.8 766.0 123.8 768.5 130.0 771.0 C136.2 773.5 143.3 776.7 150.0 780.0 C156.7 783.3 164.2 787.4 170.0 791.0 C175.8 794.6 180.0 797.7 185.0 801.5 C190.0 805.3 195.4 809.6 200.0 814.0 C204.6 818.4 209.0 823.0 212.5 828.0 C216.0 833.0 218.5 838.7 221.0 844.0 C223.5 849.3 225.9 854.4 227.5 860.0 C229.1 865.6 230.2 871.7 230.5 877.5 C230.8 883.3 229.8 889.2 229.0 895.0 C228.2 900.8 226.7 906.5 226.0 912.5 C225.3 918.5 225.0 924.8 225.0 931.0 C225.0 937.2 225.7 944.8 226.0 950.0 C226.3 955.2 227.0 958.2 227.0 962.0 C227.0 965.8 226.3 968.7 226.0 973.0 C225.7 977.3 226.0 982.6 225.0 988.0 C224.0 993.4 222.1 998.8 220.0 1005.5 C217.9 1012.2 215.8 1020.1 212.5 1028.0 C209.2 1035.9 204.2 1045.1 200.0 1053.0 C195.8 1060.9 191.2 1069.2 187.5 1075.5 C183.8 1081.8 181.1 1085.9 177.5 1090.5 C173.9 1095.1 167.9 1100.9 166.0 1103.0 M121.0 1134.0 L113.0 1139.0 M113.0 794.0 C115.0 795.0 120.3 797.2 125.0 800.0 C129.7 802.8 135.8 806.7 141.0 811.0 C146.2 815.3 151.2 820.2 156.0 826.0 C160.8 831.8 166.0 839.9 170.0 846.0 C174.0 852.1 177.3 857.2 180.0 862.5 C182.7 867.8 184.5 872.1 186.0 877.5 C187.5 882.9 187.9 888.8 189.0 895.0 C190.1 901.2 191.3 907.9 192.5 915.0 C193.7 922.1 195.2 931.5 196.0 937.5 C196.8 943.5 197.2 947.4 197.5 951.0 C197.8 954.6 197.9 957.7 198.0 959.0 M194.0 990.5 C192.9 993.8 189.8 1003.8 187.5 1010.5 C185.2 1017.2 182.5 1024.2 180.0 1030.5 C177.5 1036.8 175.2 1042.6 172.5 1048.0 C169.8 1053.4 166.9 1058.4 164.0 1063.0 C161.1 1067.6 159.0 1070.9 155.0 1075.5 C151.0 1080.1 145.0 1085.9 140.0 1090.5 C135.0 1095.1 129.5 1099.4 125.0 1103.0 C120.5 1106.6 115.0 1110.5 113.0 1112.0 M113.0 824.0 C115.0 825.5 120.9 828.7 125.0 833.0 C129.1 837.3 133.3 843.2 137.5 850.0 C141.7 856.8 146.9 866.9 150.0 874.0 C153.1 881.1 153.9 886.1 156.0 892.5 C158.1 898.9 160.8 906.2 162.5 912.5 C164.2 918.8 165.0 924.6 166.0 930.0 C167.0 935.4 167.9 939.7 168.5 945.0 C169.1 950.3 169.8 957.3 169.5 962.0 C169.2 966.7 167.9 967.8 167.0 973.0 C166.1 978.2 165.6 986.3 164.0 993.0 C162.4 999.7 159.8 1007.2 157.5 1013.0 C155.2 1018.8 152.8 1023.0 150.0 1028.0 C147.2 1033.0 142.5 1040.5 141.0 1043.0 M118.0 1077.0 L112.6 1081.3 M113.0 866.0 C114.3 868.3 118.3 875.0 121.0 880.0 C123.7 885.0 126.6 890.2 129.0 896.0 C131.4 901.8 134.4 911.8 135.5 915.0 M140.0 945.5 C140.0 948.2 140.2 957.4 140.0 962.0 C139.8 966.6 139.7 967.8 139.0 973.0 C138.3 978.2 137.5 986.8 136.0 993.0 C134.5 999.2 132.7 1004.7 130.0 1010.5 C127.3 1016.3 122.8 1023.4 120.0 1028.0 C117.2 1032.6 114.2 1036.3 113.0 1038.0 M779.0 691.8 C777.9 695.6 775.2 707.4 772.5 715.0 C769.8 722.6 766.2 730.4 762.5 737.5 C758.8 744.6 754.2 752.1 750.0 757.5 C745.8 762.9 741.2 766.7 737.5 770.0 C733.8 773.3 729.2 776.2 727.5 777.5 M677.5 797.5 C671.7 799.2 654.6 803.8 642.5 807.5 C630.4 811.2 617.1 815.4 605.0 820.0 C592.9 824.6 579.2 830.7 570.0 835.0 C560.8 839.3 558.8 842.0 550.0 846.0 C541.2 850.0 529.2 854.3 517.5 859.0 C505.8 863.7 494.6 868.4 480.0 874.0 C465.4 879.6 443.3 887.5 430.0 892.5 C416.7 897.5 409.2 900.6 400.0 904.0 C390.8 907.4 383.3 909.5 375.0 913.0 C366.7 916.5 357.5 920.5 350.0 925.0 C342.5 929.5 335.8 934.6 330.0 940.0 C324.2 945.4 319.6 952.0 315.0 957.5 C310.4 963.0 305.7 968.8 302.5 973.0 C299.3 977.2 297.7 978.8 296.0 983.0 C294.3 987.2 293.9 992.2 292.5 998.0 C291.1 1003.8 290.4 1010.5 287.5 1018.0 C284.6 1025.5 279.6 1034.7 275.0 1043.0 C270.4 1051.3 265.0 1059.7 260.0 1068.0 C255.0 1076.3 250.0 1084.7 245.0 1093.0 C240.0 1101.3 234.2 1111.8 230.0 1118.0 C225.8 1124.2 225.0 1125.9 220.0 1130.5 C215.0 1135.1 207.5 1140.8 200.0 1145.5 C192.5 1150.2 183.3 1154.4 175.0 1159.0 C166.7 1163.6 158.3 1168.6 150.0 1173.0 C141.7 1177.4 131.2 1182.6 125.0 1185.5 C118.8 1188.4 115.0 1189.7 113.0 1190.5 M821.0 1047.5 C818.3 1045.5 811.0 1039.8 805.0 1035.5 C799.0 1031.2 791.7 1026.1 785.0 1021.5 C778.3 1016.9 770.8 1011.8 765.0 1008.0 C759.2 1004.2 756.7 1003.0 750.0 999.0 C743.3 995.0 733.3 988.6 725.0 984.0 C716.7 979.4 708.3 974.9 700.0 971.5 C691.7 968.1 683.3 965.8 675.0 963.5 C666.7 961.2 659.6 959.4 650.0 958.0 C640.4 956.6 629.2 955.4 617.5 955.0 C605.8 954.6 592.5 954.8 580.0 955.5 C567.5 956.2 555.0 957.2 542.5 959.0 C530.0 960.8 515.4 963.5 505.0 966.0 C494.6 968.5 492.5 972.6 480.0 974.0 C467.5 975.4 443.3 973.4 430.0 974.5 C416.7 975.6 409.2 977.6 400.0 980.5 C390.8 983.4 383.3 987.4 375.0 992.0 C366.7 996.6 357.1 1002.8 350.0 1008.0 C342.9 1013.2 337.5 1017.6 332.5 1023.0 C327.5 1028.4 324.1 1035.0 320.0 1040.5 C315.9 1046.0 311.2 1051.8 308.0 1056.0 C304.8 1060.2 302.2 1064.3 301.0 1066.0 M280.0 1100.5 C277.9 1103.8 271.7 1114.7 267.5 1120.5 C263.3 1126.3 259.6 1130.5 255.0 1135.5 C250.4 1140.5 245.8 1145.9 240.0 1150.5 C234.2 1155.1 227.5 1158.6 220.0 1163.0 C212.5 1167.4 203.3 1172.4 195.0 1177.0 C186.7 1181.6 178.3 1186.2 170.0 1190.5 C161.7 1194.8 153.3 1199.2 145.0 1203.0 C136.7 1206.8 124.2 1211.8 120.0 1213.5 M441.0 1046.0 C439.2 1046.0 434.8 1045.5 430.0 1046.0 C425.2 1046.5 419.6 1046.8 412.5 1049.0 C405.4 1051.2 395.8 1054.6 387.5 1059.0 C379.2 1063.4 370.8 1069.0 362.5 1075.5 C354.2 1082.0 344.6 1090.9 337.5 1098.0 C330.4 1105.1 325.4 1111.3 320.0 1118.0 C314.6 1124.7 310.4 1130.9 305.0 1138.0 C299.6 1145.1 293.3 1154.0 287.5 1160.5 C281.7 1167.0 277.1 1172.0 270.0 1177.0 C262.9 1182.0 253.3 1186.2 245.0 1190.5 C236.7 1194.8 227.5 1199.2 220.0 1203.0 C212.5 1206.8 203.3 1211.8 200.0 1213.5 M491.0 1053.5 C495.4 1055.5 506.8 1060.2 517.5 1065.5 C528.2 1070.8 542.5 1078.2 555.0 1085.5 C567.5 1092.8 580.0 1101.1 592.5 1109.0 C605.0 1116.9 617.5 1124.8 630.0 1133.0 C642.5 1141.2 657.1 1150.5 667.5 1158.0 C677.9 1165.5 684.2 1172.0 692.5 1178.0 C700.8 1184.0 710.0 1189.4 717.5 1194.0 C725.0 1198.6 731.2 1202.2 737.5 1205.5 C743.8 1208.8 752.1 1212.2 755.0 1213.5 M410.0 1135.5 C406.2 1136.1 395.4 1136.5 387.5 1139.0 C379.6 1141.5 369.8 1146.1 362.5 1150.5 C355.2 1154.9 349.8 1160.5 344.0 1165.5 C338.2 1170.5 332.8 1175.9 328.0 1180.5 C323.2 1185.1 320.3 1189.1 315.5 1193.0 C310.7 1196.9 304.2 1200.6 299.0 1204.0 C293.8 1207.4 286.9 1211.9 284.5 1213.5 M461.0 1145.5 C464.2 1147.2 472.7 1150.9 480.0 1155.5 C487.3 1160.1 497.5 1167.2 505.0 1173.0 C512.5 1178.8 519.2 1185.3 525.0 1190.5 C530.8 1195.7 535.9 1200.2 540.0 1204.0 C544.1 1207.8 547.9 1211.9 549.5 1213.5" fill="none" stroke="#231f20" stroke-width="1.35" stroke-linecap="butt" stroke-linejoin="round"/>
<rect x="112.60" y="691.75" width="708.40" height="521.85" fill="none" stroke="#231f20" stroke-width="2.3"/>
<path d="M159.83 1213.60 v-6.50 M207.05 1213.60 v-11.30 M254.28 1213.60 v-6.50 M301.51 1213.60 v-11.30 M348.73 1213.60 v-6.50 M395.96 1213.60 v-11.30 M443.19 1213.60 v-6.50 M490.41 1213.60 v-11.30 M537.64 1213.60 v-6.50 M584.87 1213.60 v-11.30 M632.09 1213.60 v-6.50 M679.32 1213.60 v-11.30 M726.55 1213.60 v-6.50 M773.77 1213.60 v-11.30 M112.60 735.24 h6.50 M112.60 778.73 h11.30 M112.60 822.21 h6.50 M112.60 865.70 h11.30 M112.60 909.19 h6.50 M112.60 952.67 h11.30 M112.60 996.16 h6.50 M112.60 1039.65 h11.30 M112.60 1083.14 h6.50 M112.60 1126.62 h11.30 M112.60 1170.11 h6.50 " fill="none" stroke="#231f20" stroke-width="2.1"/>
<text x="112.6" y="1248.0" font-size="30.0" text-anchor="middle">900</text>
<text x="207.1" y="1248.0" font-size="30.0" text-anchor="middle">920</text>
<text x="301.5" y="1248.0" font-size="30.0" text-anchor="middle">940</text>
<text x="396.0" y="1248.0" font-size="30.0" text-anchor="middle">960</text>
<text x="490.4" y="1248.0" font-size="30.0" text-anchor="middle">980</text>
<text x="584.9" y="1248.0" font-size="30.0" text-anchor="middle">1000</text>
<text x="679.3" y="1248.0" font-size="30.0" text-anchor="middle">1020</text>
<text x="773.8" y="1248.0" font-size="30.0" text-anchor="middle">1040</text>
<text x="101.0" y="700.0" font-size="30.0" text-anchor="end">1.0</text>
<text x="101.0" y="786.9" font-size="30.0" text-anchor="end">0.5</text>
<text x="101.0" y="873.9" font-size="30.0" text-anchor="end">0.0</text>
<text x="101.0" y="960.9" font-size="30.0" text-anchor="end">-0.5</text>
<text x="101.0" y="1047.8" font-size="30.0" text-anchor="end">-1.0</text>
<text x="101.0" y="1134.8" font-size="30.0" text-anchor="end">-1.5</text>
<text x="101.0" y="1221.8" font-size="30.0" text-anchor="end">-2.0</text>
<text transform="translate(28.3 938.5) rotate(-90)" font-size="30.0" text-anchor="middle">log(strain rates /s<tspan font-size="18.0" dy="-12.6">-1</tspan><tspan dy="12.6">)</tspan></text>
<text x="342.4" y="1290.3" font-size="30.79">Temperature /</text>
<text x="514.7" y="1290.1" font-size="31.15" stroke="#231f20" stroke-width="0.7">°</text>
<text transform="translate(525.9 1290.3) scale(0.80 1)" font-family="&quot;Liberation Sans&quot;, sans-serif" font-size="31.96" stroke="#231f20" stroke-width="0.5">C</text>
<text x="0.5" y="700.0" font-size="37.5" text-anchor="start">(c)</text>
<text x="209.5" y="722.5" font-size="27.3" text-anchor="start">0.20</text>
<text x="384.0" y="729.4" font-size="27.3" text-anchor="start">0.15</text>
<text x="414.0" y="807.5" font-size="27.3" text-anchor="start">0.20</text>
<text x="679.0" y="792.0" font-size="27.3" text-anchor="start">0.25</text>
<text x="175.0" y="982.5" font-size="27.3" text-anchor="start">0.10</text>
<text x="178.0" y="940.6" font-size="27.3" text-anchor="end" clip-path="url(#clipc)">0.0054</text>
<text x="158.5" y="1070.0" font-size="27.3" text-anchor="end" clip-path="url(#clipc)">0.055</text>
<text x="117.5" y="1128.5" font-size="27.3" text-anchor="start">0.15</text>
<text x="269.5" y="1092.5" font-size="27.3" text-anchor="start">0.30</text>
<text x="442.5" y="1050.0" font-size="27.3" text-anchor="start">0.35</text>
<text x="413.0" y="1142.5" font-size="27.3" text-anchor="start">0.40</text>
<text font-weight="bold" font-size="30.0" stroke="#231f20" stroke-width="0.3"><tspan x="221.2" y="800.4" letter-spacing="0.35">Unstable</tspan><tspan x="344.8" y="800.4" font-size="31.3" letter-spacing="-1.90">III</tspan><tspan x="379.1" y="810.3" font-size="28.5">B</tspan></text>
<text font-weight="bold" font-size="30.0" stroke="#231f20" stroke-width="0.3"><tspan x="549.5" y="912.1" letter-spacing="0.10">Stable</tspan><tspan x="633.3" y="912.1" font-size="30.6" letter-spacing="-1.40">III</tspan><tspan x="672.9" y="921.3" font-size="29.5">B</tspan></text>
</g>
</svg>
</body></html>
